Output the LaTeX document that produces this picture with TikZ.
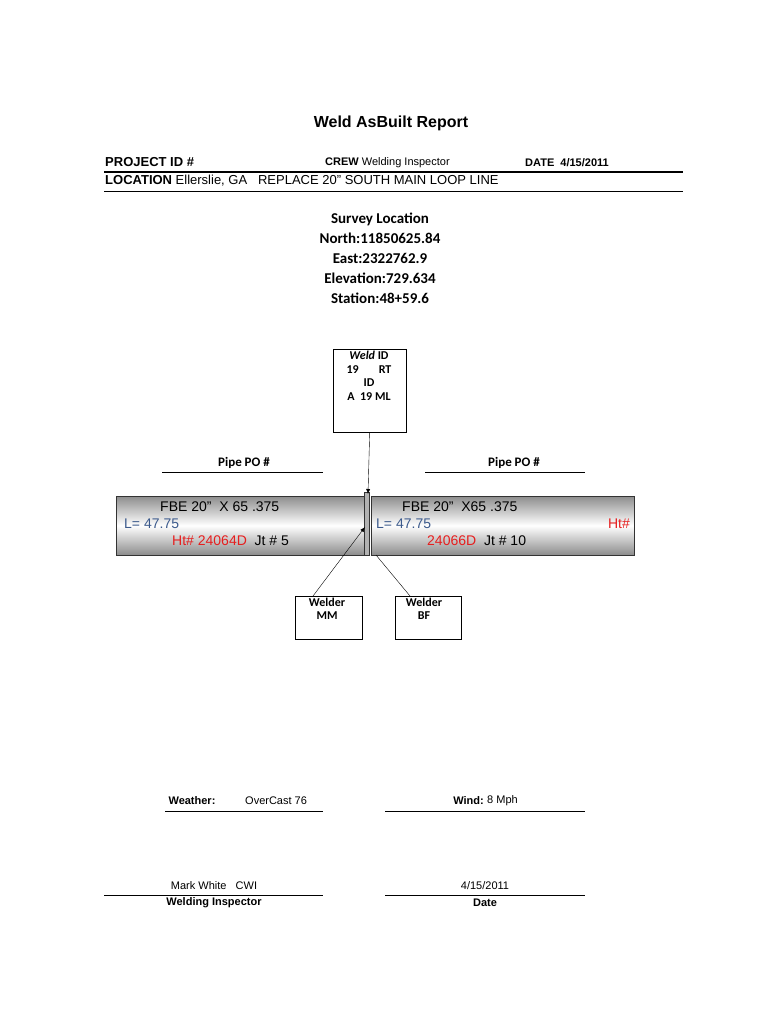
\documentclass[tikz,border=0pt]{standalone}
\usepackage{fontspec}
\setmainfont{Liberation Sans}
\newfontfamily\carfont{Carlito}
\usetikzlibrary{arrows.meta,positioning}
\definecolor{htred}{RGB}{230,30,30}
\definecolor{lblue}{RGB}{60,90,140}
\tikzset{
  lbl/.style={inner sep=0pt, font=\fontsize{12}{14}\selectfont},
  pipetxt/.style={inner sep=0pt, font=\fontsize{14}{16}\selectfont},
  box/.style={draw, thin, inner sep=0pt, font=\carfont\fontsize{12}{13}\selectfont\bfseries, align=center},
  pipe/.style={draw=black!80, top color=black!45, bottom color=black!45, middle color=white},
  rule/.style={line width=0.6pt},
  surv/.style={inner sep=0pt, font=\carfont\fontsize{15}{20}\selectfont\bfseries, align=center},
}
\begin{document}
\begin{tikzpicture}[x=1pt,y=-1pt]
  \useasboundingbox[fill=white] (0,0) rectangle (768,1024);
  % title and header
  \node[inner sep=0pt, font=\fontsize{16}{18}\selectfont\bfseries] (title) at (391,123) {Weld AsBuilt Report};
  \node[lbl, anchor=west, font=\fontsize{13}{15}\selectfont\bfseries] (pid) at (105,162) {PROJECT ID \#};
  \node[lbl, anchor=west, font=\fontsize{11}{13}\selectfont] (crew) at (325,163) {\textbf{CREW} Welding Inspector};
  \node[lbl, anchor=west, font=\fontsize{11}{13}\selectfont\bfseries] (date) at (525,163) {DATE\ \ 4/15/2011};
  \draw[line width=1.3pt] (104,172) -- (683,172);
  \node[lbl, anchor=west, font=\fontsize{13}{15}\selectfont] (loc) at (105,181) {\textbf{LOCATION} Ellerslie, GA\ \ \ REPLACE 20" SOUTH MAIN LOOP LINE};
  \draw[rule] (104,191) -- (683,191);
  % survey
  \node[surv] (survey) at (380,258) {Survey Location\\North:11850625.84\\East:2322762.9\\Elevation:729.634\\Station:48+59.6};
  % pipes
  \draw[pipe] (116,496) rectangle (364,555);
  \draw[pipe] (371,496) rectangle (634,555);
  \draw[draw=black!80, fill=black!30] (364,492) rectangle (369,555);
  \node[pipetxt, anchor=west] (fbe1) at (160,507) {FBE 20"\ \ X 65 .375};
  \node[pipetxt, anchor=west, text=lblue] (len1) at (124,524) {L= 47.75};
  \node[pipetxt, anchor=west] (ht1) at (172,541) {\textcolor{htred}{Ht\# 24064D}\ \ Jt \# 5};
  \node[pipetxt, anchor=west] (fbe2) at (402,507) {FBE 20"\ \ X65 .375};
  \node[pipetxt, anchor=west, text=lblue] (len2) at (376,524) {L= 47.75};
  \node[pipetxt, anchor=east, text=htred] (ht2) at (630,524) {Ht\#};
  \node[pipetxt, anchor=west] (jt2) at (427,541) {\textcolor{htred}{24066D}\ \ Jt \# 10};
  % pipe PO
  \node[inner sep=0pt, font=\carfont\fontsize{13}{15}\selectfont\bfseries] (po1) at (244,463) {Pipe PO \#};
  \draw[rule] (162,472) -- (323,472);
  \node[inner sep=0pt, font=\carfont\fontsize{13}{15}\selectfont\bfseries] (po2) at (514,463) {Pipe PO \#};
  \draw[rule] (425,472) -- (585,472);
  % boxes
  \node[box, minimum width=73pt, minimum height=83pt, anchor=north west] (weld) at (333,349) {};
  \node[box, draw=none, anchor=north, font=\carfont\fontsize{12}{13.5}\selectfont\bfseries] (weldtxt) at (369,351) {\textit{Weld} ID\\19\hspace{20pt}RT\\ID\\A\ \ 19 ML};
  \node[box, minimum width=67pt, minimum height=43pt, anchor=north west] (wmm) at (295,596) {};
  \node[box, draw=none, anchor=north] (wmmtxt) at (327,598) {Welder\\MM};
  \node[box, minimum width=66pt, minimum height=43pt, anchor=north west] (wbf) at (395,596) {};
  \node[box, draw=none, anchor=north] (wbftxt) at (424,598) {Welder\\BF};
  \coordinate (weldtip) at (368,494);
  \coordinate (mmtip) at (365,527);
  \coordinate (bfend) at (376,555);
  \draw[-{Latex[length=5pt,width=4pt]}] (weld.south) -- (weldtip);
  \draw[-{Latex[length=5pt,width=4pt]}] (wmm.north west) ++(18,0) coordinate (mmstart) -- (mmtip);
  \draw (wbf.north west) ++(15,0) -- (bfend);
  % weather and sign-off
  \node[inner sep=0pt, font=\fontsize{11}{13}\selectfont\bfseries] (wlbl) at (192,801) {Weather:};
  \node[inner sep=0pt, anchor=west, font=\fontsize{11}{13}\selectfont] (wval) at (245,801) {OverCast 76};
  \draw[rule] (165,811) -- (323,811);
  \node[inner sep=0pt, anchor=east, font=\fontsize{11}{13}\selectfont\bfseries] (windlbl) at (484,801) {Wind:};
  \node[inner sep=0pt, anchor=west, font=\fontsize{11}{13}\selectfont] (windval) at (487,801) {8 Mph};
  \draw[rule] (385,811) -- (585,811);
  \node[inner sep=0pt, font=\fontsize{11}{13}\selectfont] (insp) at (214,886) {Mark White\ \ \ CWI};
  \draw[rule] (104,895) -- (323,895);
  \node[inner sep=0pt, font=\fontsize{11}{13}\selectfont\bfseries] (insplbl) at (214,903) {Welding Inspector};
  \node[inner sep=0pt, font=\fontsize{11}{13}\selectfont] (sdate) at (485,886) {4/15/2011};
  \draw[rule] (385,895) -- (585,895);
  \node[inner sep=0pt, font=\fontsize{11}{13}\selectfont\bfseries] (datelbl) at (485,903) {Date};
\end{tikzpicture}
\end{document}
